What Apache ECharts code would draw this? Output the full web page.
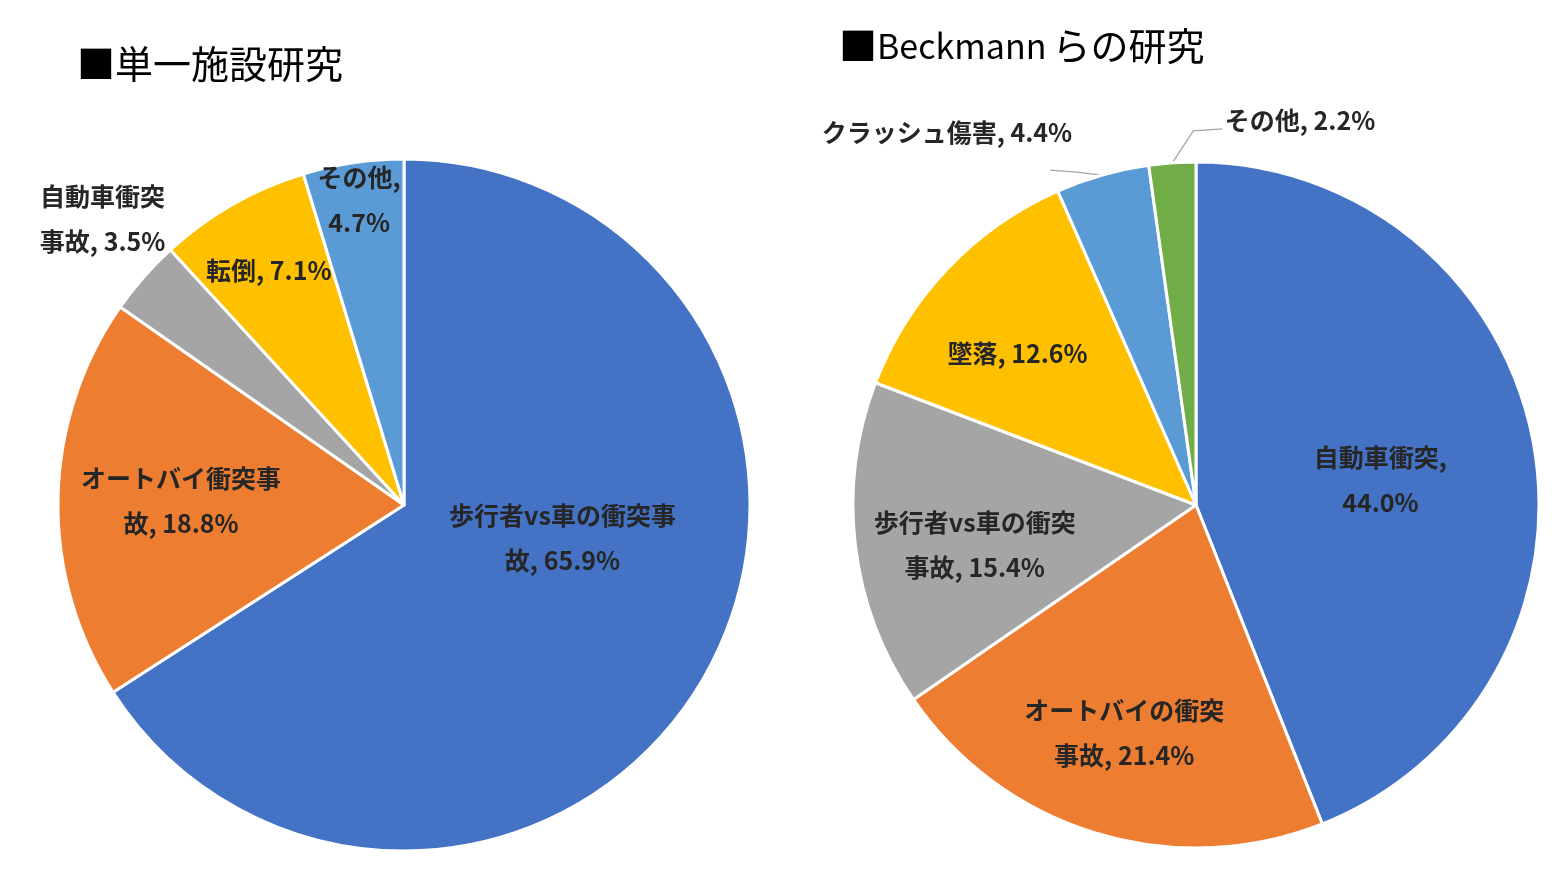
<!DOCTYPE html>
<html>
<head>
<meta charset="utf-8">
<script src="https://cdn.jsdelivr.net/npm/echarts@6/dist/echarts.min.js"></script>
<style>
html,body{margin:0;padding:0;background:#fff;}
#c{width:1558px;height:874px;}
</style>
</head>
<body>
<div id="c"></div>
<script>
// ---- data ----
const leftTitle = '■単一施設研究';
const rightTitleParts = ['■', 'Beckmann', 'らの研究'];

const leftNames = ['歩行者vs車の衝突事故', 'オートバイ衝突事故', '自動車衝突事故', '転倒', 'その他'];
const leftLabelNames = ['歩行者vs車の衝突事\n故', 'オートバイ衝突事\n故', '自動車衝突\n事故', '転倒', 'その他'];
const leftLabelSep = [', ', ', ', ', ', ', ', ',\n'];
const leftValues = [65.9, 18.8, 3.5, 7.1, 4.7];

const rightNames = ['自動車衝突', 'オートバイの衝突事故', '歩行者vs車の衝突事故', '墜落', 'クラッシュ傷害', 'その他'];
const rightLabelNames = ['自動車衝突', 'オートバイの衝突\n事故', '歩行者vs車の衝突\n事故', '墜落', 'クラッシュ傷害', 'その他'];
const rightLabelSep = [',\n', ', ', ', ', ', ', ', ', ', '];
const rightValues = [44.0, 21.4, 15.4, 12.6, 4.4, 2.2];

// ---- style ----
const leftColors = ['#4472C4', '#ED7D31', '#A5A5A5', '#FFC000', '#5B9BD5'];
const rightColors = ['#4472C4', '#ED7D31', '#A5A5A5', '#FFC000', '#5B9BD5', '#70AD47'];
const leftShift = [[4, -51], [-47, -1], [-169, -170], [-48, -82], [-19, -131]];
const rightShift = [[13, 8], [-21, 61], [-48, 19], [-52, -31], [17, -35], [98, -34]];
const rightOutside = [false, false, false, false, true, true];
const rightAlign = [null, null, null, null, 'right', 'left'];
// leader line bends, relative to the line's start on the slice edge
const rightLineBend = [null, null, null, null, [[-26, -3], [-52, -5]], [[21, -32], [50, -34]]];

const labelFont = {
  fontFamily: '"Noto Sans CJK JP", "Noto Sans", sans-serif',
  fontWeight: 'bold',
  fontSize: 25,
  color: '#262626',
  lineHeight: 45
};
const titleFont = '"Noto Sans CJK JP", sans-serif';

function buildData(names, labels, seps, values, colors, outside) {
  return values.map((v, i) => ({
    name: names[i],
    value: v,
    itemStyle: { color: colors[i] },
    label: Object.assign({
      show: true,
      position: outside && outside[i] ? 'outside' : 'inside',
      formatter: labels[i] + seps[i] + v.toFixed(1) + '%'
    }, labelFont),
    labelLine: { show: !!(outside && outside[i]), length: 8, length2: 40, smooth: false,
      lineStyle: { color: '#A6A6A6', width: 1.3 } }
  }));
}

const chart = echarts.init(document.getElementById('c'), null, { renderer: 'canvas' });
chart.setOption({
  backgroundColor: '#ffffff',
  animation: false,
  title: [
    { text: leftTitle, left: 72, top: 40,
      textStyle: { fontFamily: titleFont, fontWeight: 'normal', fontSize: 38, color: '#000' } },
    { text: '{a|' + rightTitleParts[0] + '}{b|' + rightTitleParts[1] + '}{a|' + rightTitleParts[2] + '}', left: 834, top: 22,
      textStyle: { fontFamily: titleFont, fontWeight: 'normal', fontSize: 38, color: '#000',
        rich: {
          a: { fontFamily: titleFont, fontSize: 38, color: '#000' },
          b: { fontFamily: titleFont, fontSize: 34, color: '#000', padding: [0, 6, 0, 0] }
        } } }
  ],
  series: [
    {
      type: 'pie',
      center: [404, 505],
      radius: [0, 346],
      startAngle: 90,
      clockwise: true,
      avoidLabelOverlap: false,
      itemStyle: { borderColor: '#ffffff', borderWidth: 3 },
      emphasis: { disabled: true },
      data: buildData(leftNames, leftLabelNames, leftLabelSep, leftValues, leftColors, null),
      labelLayout: function (p) { return { dx: leftShift[p.dataIndex][0], dy: leftShift[p.dataIndex][1] }; }
    },
    {
      type: 'pie',
      center: [1196, 505],
      radius: [0, 343],
      startAngle: 90,
      clockwise: true,
      avoidLabelOverlap: false,
      itemStyle: { borderColor: '#ffffff', borderWidth: 3 },
      emphasis: { disabled: true },
      data: buildData(rightNames, rightLabelNames, rightLabelSep, rightValues, rightColors, rightOutside),
      labelLayout: function (p) {
        const i = p.dataIndex;
        const s = rightShift[i];
        const al = rightAlign[i];
        if (!al) { return { dx: s[0], dy: s[1] }; }
        const r = p.labelRect;
        const out = {
          x: r.x + r.width + s[0],
          y: r.y + r.height / 2 + s[1],
          align: al,
          verticalAlign: 'middle'
        };
        if (p.labelLinePoints && rightLineBend[i]) {
          const p0 = p.labelLinePoints[0];
          out.labelLinePoints = [
            [p0[0], p0[1]],
            [p0[0] + rightLineBend[i][0][0], p0[1] + rightLineBend[i][0][1]],
            [p0[0] + rightLineBend[i][1][0], p0[1] + rightLineBend[i][1][1]]
          ];
        }
        return out;
      }
    }
  ]
});
</script>
</body>
</html>
